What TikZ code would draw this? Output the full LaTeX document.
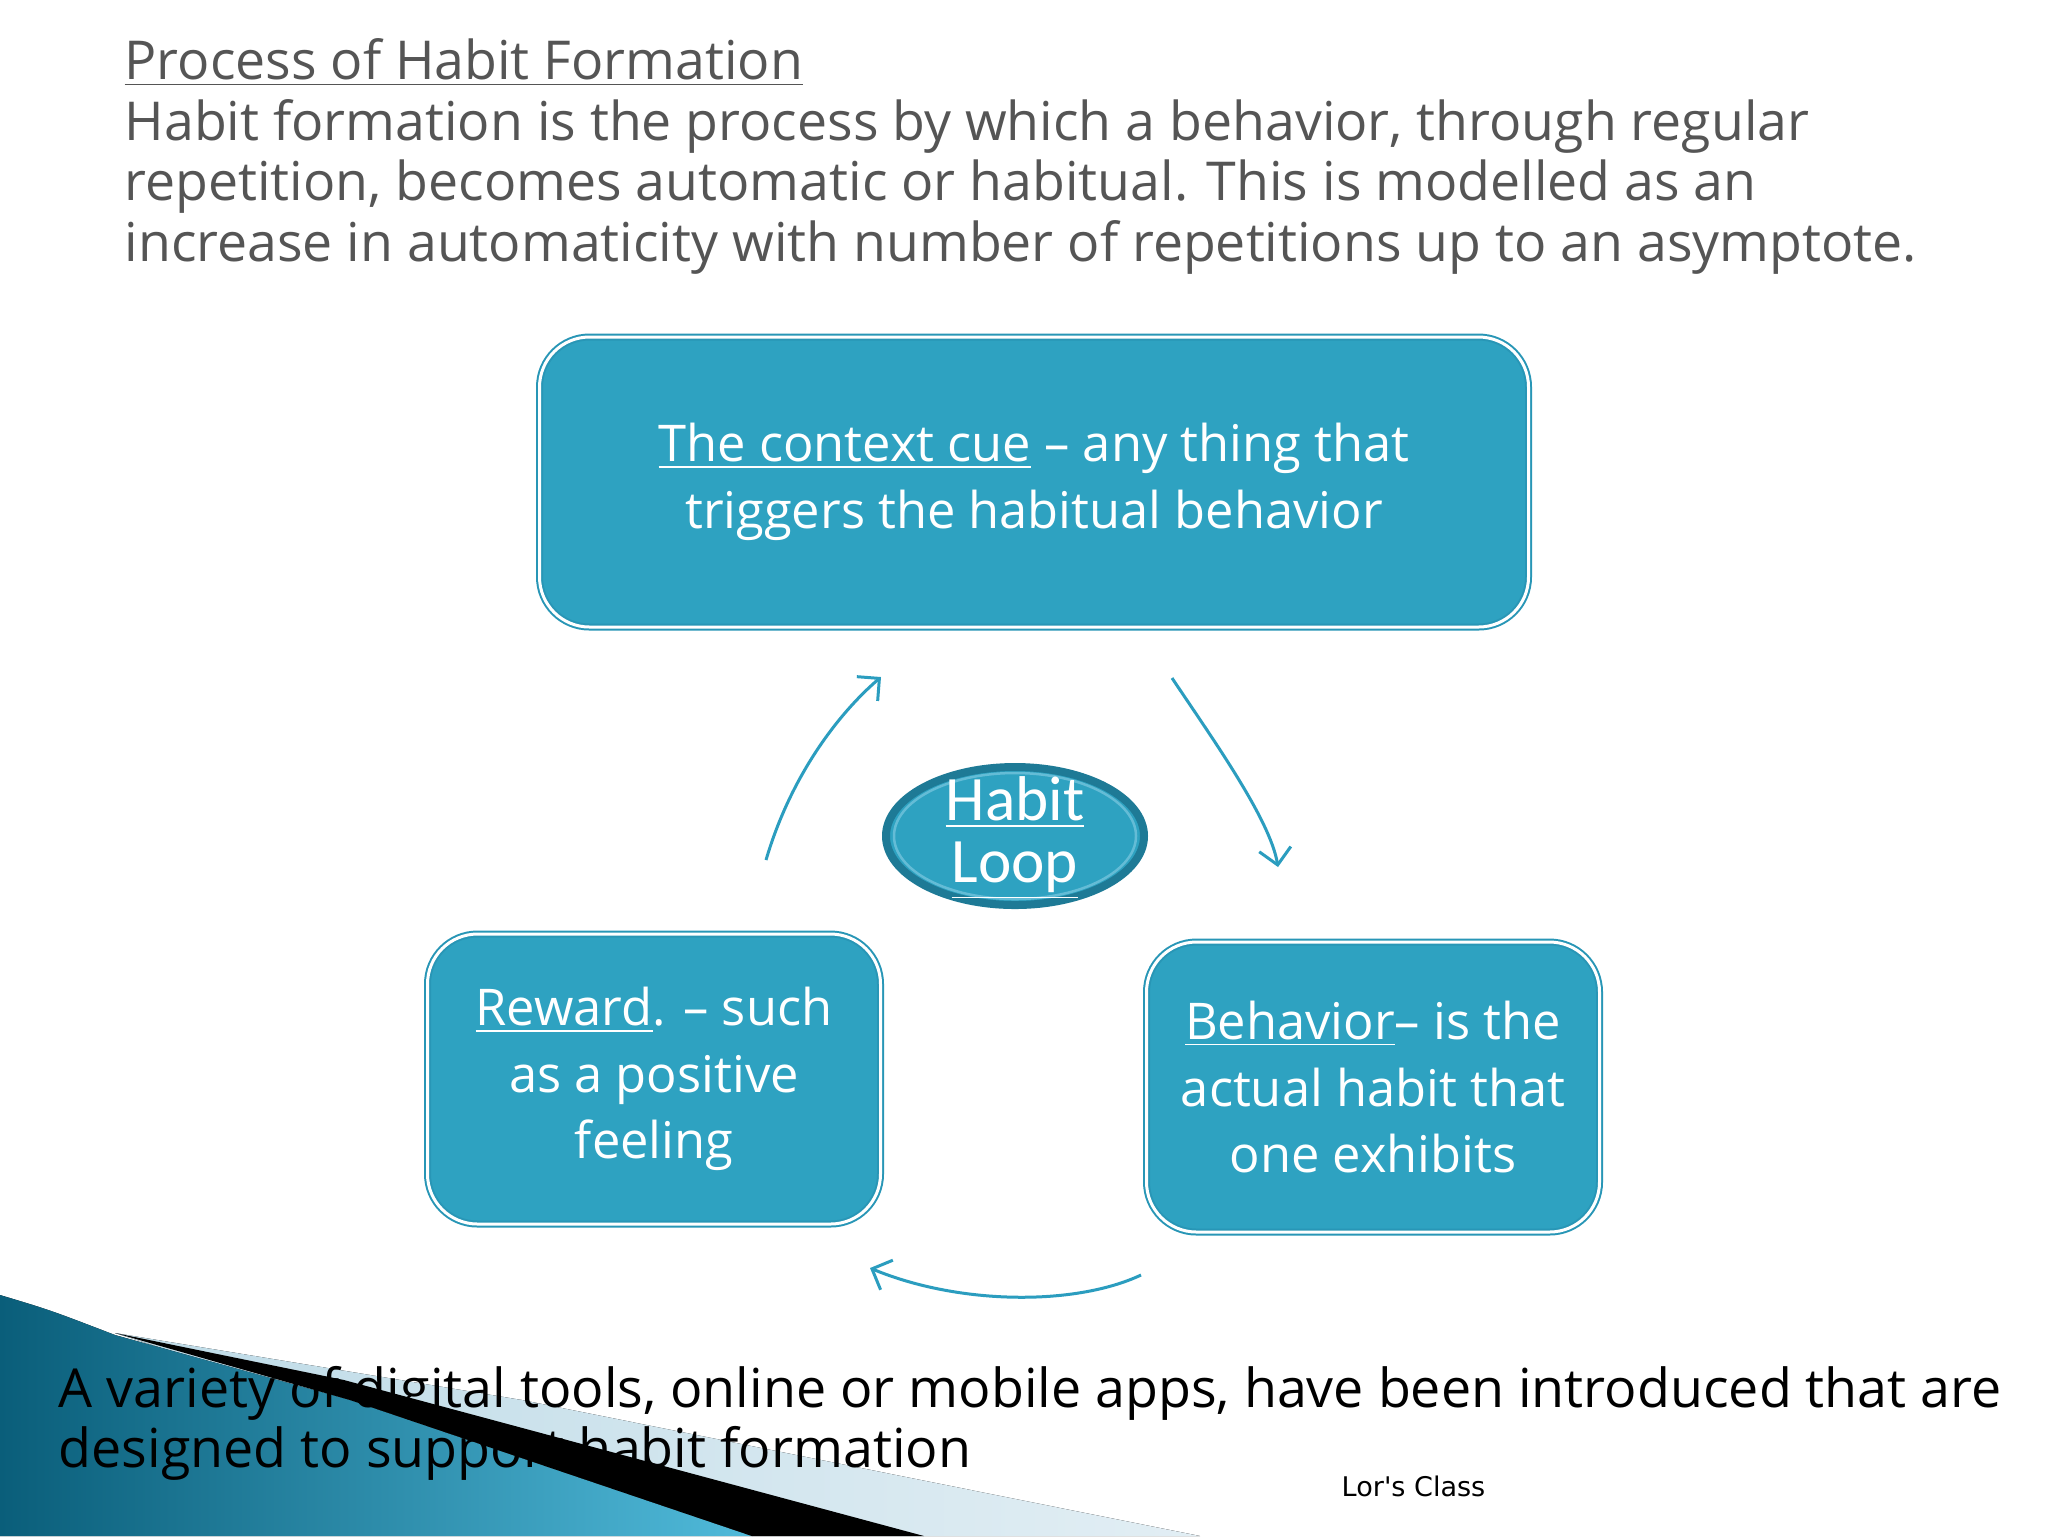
\documentclass[tikz,border=0pt]{standalone}
\usepackage{fontspec}
\setmainfont{Open Sans}
\newfontfamily\loopfont{Carlito}
\newfontfamily\lorfont{DejaVu Sans}
\usetikzlibrary{arrows.meta,shapes.geometric}
\definecolor{boxfill}{RGB}{46,162,193}
\definecolor{boxedge}{RGB}{40,150,182}
\definecolor{rim}{RGB}{30,122,150}
\definecolor{rimlight}{RGB}{100,188,214}
\definecolor{arrowcol}{RGB}{43,157,191}
\definecolor{titlegrey}{RGB}{85,85,85}
\definecolor{wedgedark}{RGB}{10,94,122}
\definecolor{wedgelight}{RGB}{80,186,218}
\definecolor{pale}{RGB}{190,219,231}
\definecolor{palefade}{RGB}{226,238,244}
\begin{document}
\begin{tikzpicture}[x=0.1mm,y=-0.1mm,
  cyclebox/.style={rounded corners=5mm, fill=boxfill, draw=boxedge, line width=0.2mm,
    double=white, double distance=0.3mm, text=white, align=center,
    font=\fontsize{14.4}{19}\selectfont, minimum height=29mm, inner sep=0},
  headtext/.style={anchor=base west, inner sep=0, text=titlegrey, font=\fontsize{15.25}{17}\selectfont},
  foottext/.style={anchor=base west, inner sep=0, text=black, font=\fontsize{15.3}{17}\selectfont},
  loopline/.style={draw=arrowcol, line width=0.3mm, -{Straight Barb[length=1.6mm, width=3.2mm]}}
]
\useasboundingbox (0,0) rectangle (2048,1536);
\fill[white] (0,0) rectangle (2048,1536);

% bottom-left decoration
\fill[left color=pale, right color=palefade] (115,1333) -- (522,1400) -- (1200,1536) -- (752,1536) -- cycle;
\fill[left color=wedgedark, right color=wedgelight] (0,1295) .. controls (50,1310) .. (115,1335) -- (350,1400) -- (752,1536) -- (0,1536) -- cycle;
\fill[black] (115,1333) -- (344,1380) -- (924,1536) -- (752,1536) -- (350,1400) -- cycle;

% heading
\node[headtext] (title) at (124,79) {\underline{Process of Habit Formation}};
\node[headtext] (h1) at (124,140) {Habit formation is the process by which a behavior, through regular};
\node[headtext] (h2) at (124,200) {repetition, becomes automatic or habitual. This is modelled as an};
\node[headtext] (h3) at (124,261) {increase in automaticity with number of repetitions up to an asymptote.};

% boxes
\node[cyclebox, minimum width=98.9mm] (cue) at (1034,482) {\underline{The context cue} – any thing that\\triggers the habitual behavior};
\node[cyclebox, minimum width=45.3mm] (reward) at (654,1079) {\underline{Reward}. – such\\as a positive\\feeling};
\node[cyclebox, minimum width=45.3mm] (behav) at (1373,1087) {\underline{Behavior}– is the\\actual habit that\\one exhibits};

% centre ellipse
\node[ellipse, fill=boxfill, draw=rim, line width=0.8mm, minimum width=25.8mm, minimum height=13.8mm, inner sep=0] (loop) at (1015,836) {};
\draw[rimlight, line width=0.25mm] (loop.center) ellipse (121 and 63);
\node[inner sep=0, text=white, align=center, font=\loopfont\fontsize{18}{17.6}\selectfont] (looptext) at (1015,838) {\underline{Habit}\\\underline{Loop}};

% cycle arrows
\coordinate (a1s) at (766,860); \coordinate (a1e) at (881,677);
\coordinate (a2s) at (1172,678); \coordinate (a2e) at (1278,867);
\coordinate (a3s) at (1141,1275); \coordinate (a3e) at (870,1268);
\draw[loopline] (a1s) .. controls (791,775) and (839,713) .. (a1e);
\draw[loopline] (a2s) .. controls (1212,738) and (1270,819) .. (a2e);
\draw[loopline] (a3s) .. controls (1075,1306) and (959,1305) .. (a3e);

% footer text
\node[foottext] (f1) at (58,1407) {A variety of digital tools, online or mobile apps, have been introduced that are};
\node[foottext] (f2) at (58,1467) {designed to support habit formation};
\node[anchor=base west, inner sep=0, font=\lorfont\fontsize{7.7}{9}\selectfont] (lor) at (1341,1496) {Lor\textquotesingle s Class};
\end{tikzpicture}
\end{document}
